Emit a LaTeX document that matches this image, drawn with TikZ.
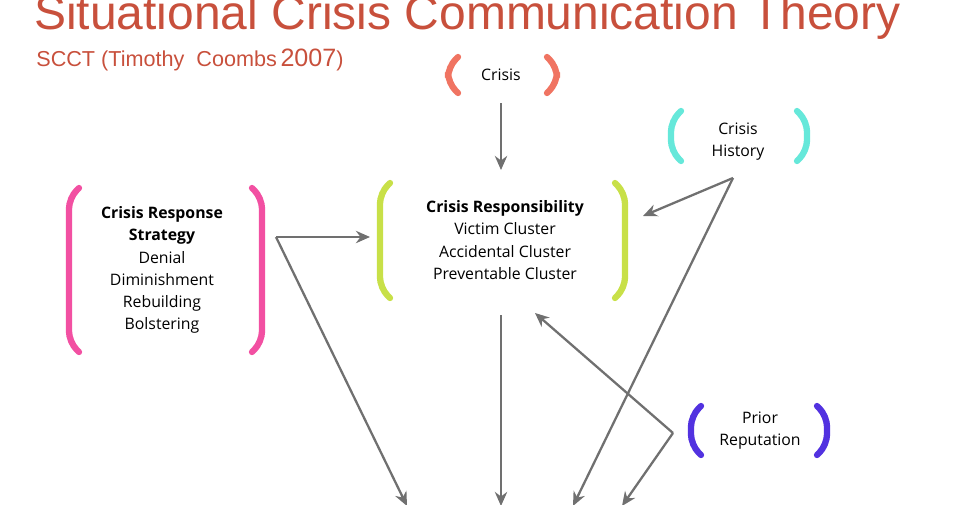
\documentclass[tikz,border=0pt]{standalone}
\usepackage{fontspec}
\setmainfont{Open Sans}
\newfontfamily\arialf{Liberation Sans}
\usetikzlibrary{arrows.meta}
\definecolor{ttl}{HTML}{C8503C}
\definecolor{cA}{HTML}{F07462}
\definecolor{cB}{HTML}{66E8DA}
\definecolor{cC}{HTML}{F250A2}
\definecolor{cD}{HTML}{C8E048}
\definecolor{cE}{HTML}{5232E0}
\definecolor{arr}{HTML}{707070}
\newcommand\mybrk[5]{%
 \draw[line width=3.6pt,#5,rounded corners=6pt,line cap=round] (#1+10,#2)--(#1,#2+10)--(#1,#4-10)--(#1+10,#4);
 \draw[line width=3.6pt,#5,rounded corners=6pt,line cap=round] (#3-10,#2)--(#3,#2+10)--(#3,#4-10)--(#3-10,#4);}
\tikzset{lbl/.style={align=center,font=\fontsize{9}{12.6}\selectfont,inner sep=0pt},
 ar/.style={draw=arr,line width=1.3pt,-{Stealth[length=8pt,width=7pt]}}}
\begin{document}
\begin{tikzpicture}[x=0.02cm,y=-0.02cm]
\useasboundingbox (0,0) rectangle (960,504);
\begin{scope}
\clip (0,0) rectangle (960,504);
\node[anchor=base west,text=ttl,font=\arialf\fontsize{27.3}{29}\selectfont,inner sep=0pt] (title) at (34,29) {Situational Crisis Communication Theory};
\node[anchor=base west,text=ttl,font=\arialf\fontsize{12.3}{14}\selectfont,inner sep=0pt] (sub) at (36,66) {SCCT (Timothy\ \ Coombs\,{\fontsize{14.3}{14}\selectfont 2007})};
\mybrk{448}{57}{557}{93}{cA}
\node[lbl] (crisis) at (501,75) {Crisis};
\mybrk{671}{111}{807}{161}{cB}
\node[lbl] (hist) at (738,142) {Crisis\\History};
\mybrk{69}{188}{262}{352}{cC}
\node[lbl] (crs) at (162,270) {\textbf{Crisis Response}\\\textbf{Strategy}\\Denial\\Diminishment\\Rebuilding\\Bolstering};
\mybrk{380}{183}{625}{298}{cD}
\node[lbl] (resp) at (505,240) {\textbf{Crisis Responsibility}\\Victim Cluster\\Accidental Cluster\\Preventable Cluster};
\mybrk{691}{406}{827}{455}{cE}
\node[lbl] (prior) at (760,431) {Prior\\Reputation};
\coordinate (c1) at (501,103);
\coordinate (c2) at (501,170);
\coordinate (h0) at (733,178);
\coordinate (h1) at (643,216);
\coordinate (h2) at (573,506);
\coordinate (s0) at (276,237);
\coordinate (s1) at (370,237);
\coordinate (s2) at (407,506);
\coordinate (r0) at (501,315);
\coordinate (r1) at (501,506);
\coordinate (p0) at (673,433);
\coordinate (p1) at (535,313);
\coordinate (p2) at (622,506);
\draw[ar] (c1)--(c2);
\draw[ar] (h0)--(h1);
\draw[ar] (h0)--(h2);
\draw[ar] (s0)--(s1);
\draw[ar] (s0)--(s2);
\draw[ar] (r0)--(r1);
\draw[ar] (p0)--(p1);
\draw[ar] (p0)--(p2);
\end{scope}
\end{tikzpicture}
\end{document}
